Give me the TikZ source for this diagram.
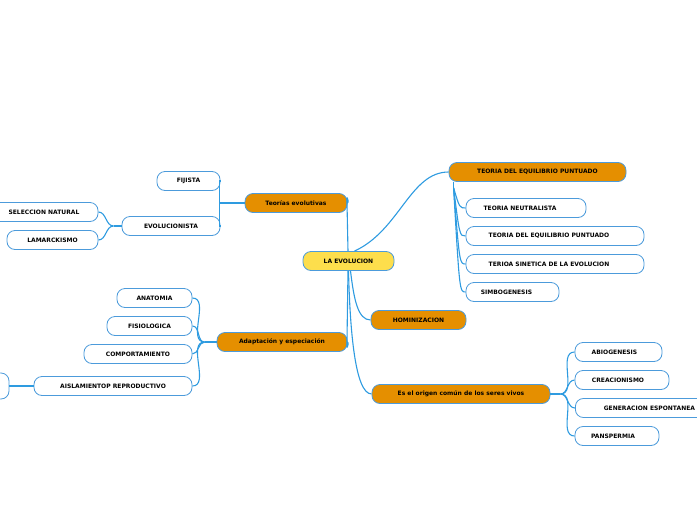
\documentclass[tikz,border=0pt]{standalone}
\usepackage{fontspec}
\setmainfont{DejaVu Sans}
\begin{document}
\begin{tikzpicture}[x=1pt,y=-1pt,
  base/.style={draw=blue!45!cyan!80!black!70, line width=0.8pt, rounded corners=8pt, minimum height=19pt, inner sep=0pt, font=\fontsize{6}{7}\selectfont\bfseries, text=black},
  root/.style={base, fill=yellow!70!orange!70},
  main/.style={base, fill=orange!75!yellow!90!black},
  leaf/.style={base, fill=white},
  ln/.style={draw=cyan!60!blue, line width=1.1pt}]
\useasboundingbox (0,0) rectangle (697,520);
\definecolor{ln}{HTML}{2E9BE0}
\node[root, minimum width=91pt] (r) at (348.5,261) {LA EVOLUCION};
\node[main, minimum width=102pt] (te) at (296,203) {Teorías evolutivas};
\node[leaf, minimum width=63pt] (fi) at (188.5,181) {FIJISTA};
\node[leaf, minimum width=98pt] (ev) at (171,226) {EVOLUCIONISTA};
\node[leaf, minimum width=120pt] (sn) at (38,212) {\hspace*{12pt}SELECCION NATURAL};
\node[leaf, minimum width=91pt] (la) at (52.5,240) {LAMARCKISMO};
\node[main, minimum width=130pt] (ad) at (282,342) {Adaptación y especiación};
\node[leaf, minimum width=75pt] (an) at (154.5,298) {ANATOMIA};
\node[leaf, minimum width=85pt] (fs) at (149.5,326) {FISIOLOGICA};
\node[leaf, minimum width=108pt] (co) at (138,354) {COMPORTAMIENTO};
\node[leaf, minimum width=158pt] (ai) at (113,386) {AISLAMIENTOP REPRODUCTIVO};
\node[leaf, minimum width=40pt, minimum height=26pt] (em) at (-11,386) {};
\node[main, minimum width=177pt] (tp) at (537.5,172) {TEORIA DEL EQUILIBRIO PUNTUADO};
\node[leaf, minimum width=120pt] (tn) at (526,208) {\hspace*{-12pt}TEORIA NEUTRALISTA};
\node[leaf, minimum width=178pt] (t2) at (555,236) {\hspace*{-12pt}TEORIA DEL EQUILIBRIO PUNTUADO};
\node[leaf, minimum width=178pt] (ts) at (555,264) {\hspace*{-12pt}TERIOA SINETICA DE LA EVOLUCION};
\node[leaf, minimum width=93pt] (si) at (512.5,292) {\hspace*{-12pt}SIMBOGENESIS};
\node[main, minimum width=95pt] (ho) at (418.5,320) {HOMINIZACION};
\node[main, minimum width=178pt] (es) at (461,394) {Es el origen común de los seres vivos};
\node[leaf, minimum width=87pt] (ab) at (618.5,352) {\hspace*{-8pt}ABIOGENESIS};
\node[leaf, minimum width=94pt] (cr) at (622,380) {\hspace*{-8pt}CREACIONISMO};
\node[leaf, minimum width=140pt, anchor=west] (ge) at (575,408) {\hspace*{8pt}GENERACION ESPONTANEA};
\node[leaf, minimum width=84pt] (pa) at (617,436) {\hspace*{-8pt}PANSPERMIA};
\begin{scope}[draw=ln, line width=1.1pt]
% root connectors
\draw (r.north west)++(45,0) coordinate (rt);
\draw ([xshift=-0.5pt]r.north) -- ([xshift=-0.5pt,yshift=5pt]te.east) to[out=90,in=0] (te.east);
\draw ([xshift=-0.5pt]r.south) -- ([xshift=-0.5pt,yshift=-5pt]ad.east) to[out=-90,in=0] (ad.east);
\draw ([xshift=6pt]r.north) .. controls (400,230) and (410,172) .. (tp.west);
\draw ([xshift=2pt]r.south) .. controls (354,300) and (358,320) .. (ho.west);
\draw ([xshift=0pt]r.south) .. controls (350,330) and (355,394) .. (es.west);
% teorias
\draw (te.west) -- ++(-25,0) coordinate (tj);
\draw (tj) |- (fi.east);
\draw (tj) |- (ev.east);
\draw (ev.west) -- ++(-8,0) coordinate (ej);
\draw (ej) to[out=180,in=0] (sn.east);
\draw (ej) to[out=180,in=0] (la.east);
% adaptacion
\draw (ad.west) -- ++(-12,0) coordinate (aj);
\foreach \n in {an,fs,co,ai} \draw (aj) to[out=180,in=0] (\n.east);
\draw (ai.west) -- (em.east);
% tp children
\draw ([xshift=5pt]tp.south west) -- ++(0,6) coordinate (pj);
\foreach \n in {tn,t2,ts,si} \draw (pj) .. controls ([xshift=6pt]pj |- \n.west) .. (\n.west);
% es children
\draw (es.east) -- ++(10,0) coordinate (sj);
\foreach \n in {ab,cr,ge,pa} \draw (sj) to[out=0,in=180] (\n.west);
\end{scope}
\end{tikzpicture}
\end{document}
